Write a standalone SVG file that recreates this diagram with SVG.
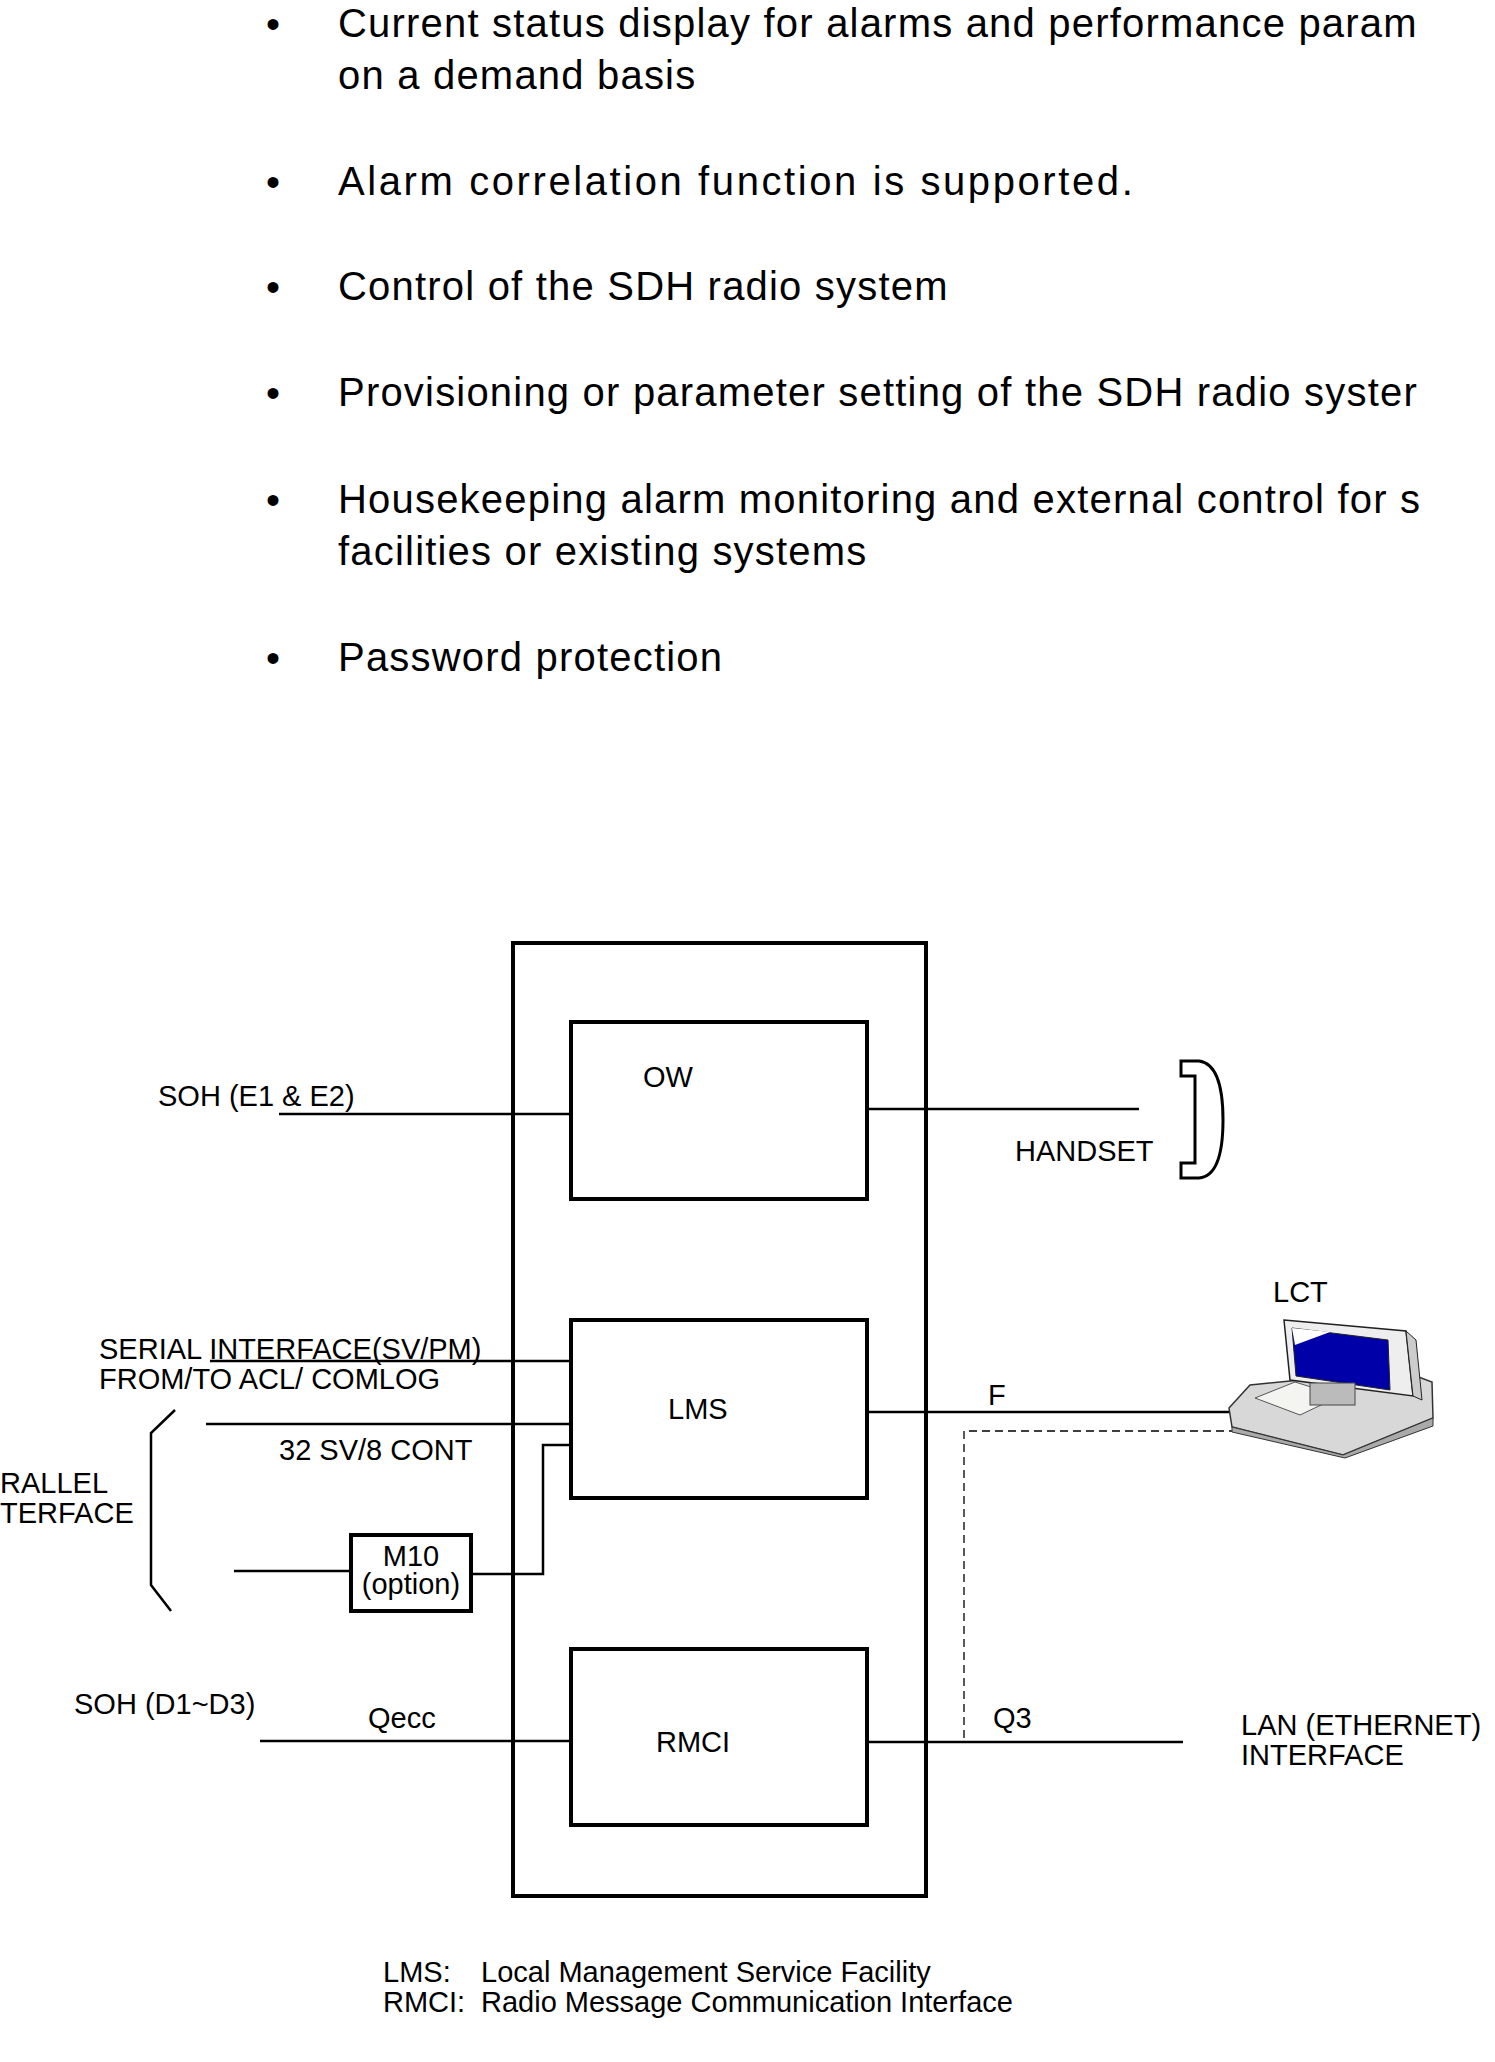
<svg xmlns="http://www.w3.org/2000/svg" width="1495" height="2062" viewBox="0 0 1495 2062">
<style>
.b{font-family:"Liberation Sans",Arial,sans-serif;font-size:40px;fill:#000;letter-spacing:1.2px}
.t{font-family:"Liberation Sans",Arial,sans-serif;font-size:29px;fill:#000}
.bx{fill:#fff;stroke:#000;stroke-width:4}
.ln{stroke:#000;stroke-width:2.5;fill:none}
</style>
<rect width="1495" height="2062" fill="#fff"/>
<g id="bullets">
<g font-family="Liberation Sans,sans-serif" font-size="40"><text x="266" y="38">•</text><text x="266" y="196">•</text><text x="266" y="301">•</text><text x="266" y="407">•</text><text x="266" y="514">•</text><text x="266" y="672">•</text></g>
<text class="b" x="338" y="37">Current status display for alarms and performance param</text>
<text class="b" x="338" y="89">on a demand basis</text>
<text class="b" x="338" y="195" textLength="796">Alarm correlation function is supported.</text>
<text class="b" x="338" y="300">Control of the SDH radio system</text>
<text class="b" x="338" y="406">Provisioning or parameter setting of the SDH radio syster</text>
<text class="b" x="338" y="513">Housekeeping alarm monitoring and external control for s</text>
<text class="b" x="338" y="565">facilities or existing systems</text>
<text class="b" x="338" y="671">Password protection</text>
</g>
<g id="outer"><rect x="513" y="943" width="413" height="953" fill="none" stroke="#000" stroke-width="4"/></g>
<g id="connectors">
<path class="ln" d="M279 1114H571M867 1109H1139M210 1361H571M206 1424H571M234 1571H351M471 1574H543V1445H571M260 1741H571M867 1742H1183M867 1412H1232"/>
<path d="M964 1738V1431H1268" fill="none" stroke="#000" stroke-width="1.3" stroke-dasharray="8,5"/>
<path class="ln" d="M175 1410L151 1433V1585L171 1611"/>
</g>
<g id="ow"><rect class="bx" x="571" y="1022" width="296" height="177"/><text class="t" x="643" y="1087">OW</text></g>
<g id="lms"><rect class="bx" x="571" y="1320" width="296" height="178"/><text class="t" x="668" y="1419">LMS</text></g>
<g id="rmci"><rect class="bx" x="571" y="1649" width="296" height="176"/><text class="t" x="656" y="1752">RMCI</text></g>
<g id="m10"><rect class="bx" x="351" y="1535" width="120" height="76"/><text class="t" x="411" y="1566" text-anchor="middle">M10</text><text class="t" x="411" y="1594" text-anchor="middle">(option)</text></g>
<g id="handset"><path d="M1181 1061H1199Q1223 1064 1223 1120Q1223 1176 1199 1178H1181V1163H1195V1076H1181Z" fill="none" stroke="#000" stroke-width="3"/><text class="t" x="1015" y="1161">HANDSET</text></g>
<g id="lct">
<text class="t" x="1273" y="1302">LCT</text>
<polygon points="1229,1408 1250,1385 1400,1370 1432,1382 1433,1418 1343,1455 1232,1427" fill="#d8d8d8" stroke="#333" stroke-width="1.5"/>
<polygon points="1232,1427 1343,1455 1433,1418 1433,1426 1345,1458 1232,1432" fill="#aaa" stroke="#333" stroke-width="1"/>
<polygon points="1255,1398 1295,1382 1340,1396 1300,1415" fill="#f4f4f0" stroke="#555" stroke-width="1"/>
<polygon points="1284,1320 1406,1331 1413,1396 1290,1380" fill="#eee" stroke="#222" stroke-width="1.5"/>
<polygon points="1292,1328 1388,1340 1390,1390 1296,1376" fill="#0000a8" stroke="#222" stroke-width="1"/>
<polygon points="1292,1328 1330,1332 1295,1345" fill="#fff"/>
<polygon points="1406,1331 1416,1340 1422,1400 1413,1396" fill="#ccc" stroke="#222" stroke-width="1"/>
<rect x="1310" y="1383" width="45" height="22" fill="#bbb" stroke="#444"/>
</g>
<g id="labels">
<text class="t" x="158" y="1106">SOH (E1 &amp; E2)</text>
<text class="t" x="99" y="1359">SERIAL INTERFACE(SV/PM)</text>
<text class="t" x="99" y="1389">FROM/TO ACL/ COMLOG</text>
<text class="t" x="279" y="1460">32 SV/8 CONT</text>
<text class="t" x="0" y="1493">RALLEL</text>
<text class="t" x="0" y="1523">TERFACE</text>
<text class="t" x="988" y="1405">F</text>
<text class="t" x="74" y="1714">SOH (D1~D3)</text>
<text class="t" x="368" y="1728">Qecc</text>
<text class="t" x="993" y="1728">Q3</text>
<text class="t" x="1241" y="1735">LAN (ETHERNET)</text>
<text class="t" x="1241" y="1765">INTERFACE</text>
<text class="t" x="383" y="1982">LMS:</text><text class="t" x="481" y="1982">Local Management Service Facility</text>
<text class="t" x="383" y="2012">RMCI:</text><text class="t" x="481" y="2012">Radio Message Communication Interface</text>
</g>
</svg>
